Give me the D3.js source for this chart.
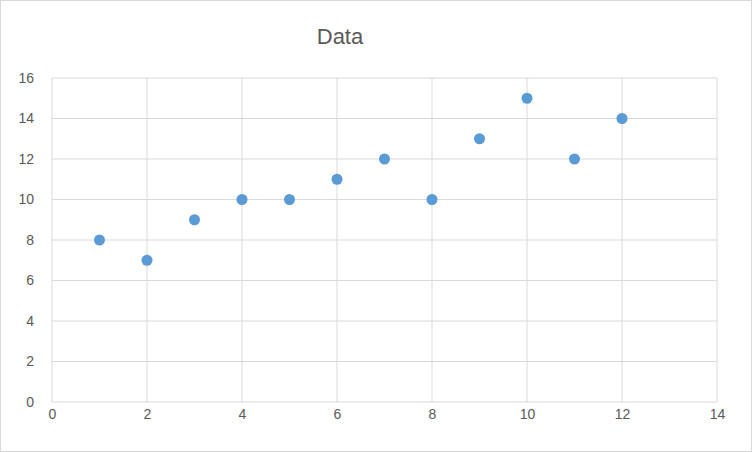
<!DOCTYPE html>
<html>
<head>
<meta charset="utf-8">
<script src="https://cdn.jsdelivr.net/npm/d3@7"></script>
<style>
  body { margin: 0; background: #fff; }
  text { font-family: "Liberation Sans", Arial, sans-serif; }
</style>
</head>
<body>
<svg id="chart" width="752" height="452"></svg>
<script>
// data
const xValues = [1, 2, 3, 4, 5, 6, 7, 8, 9, 10, 11, 12]
const yValues = [8, 7, 9, 10, 10, 11, 12, 10, 13, 15, 12, 14]
const xTicks = [0, 2, 4, 6, 8, 10, 12, 14]
const yTicks = [0, 2, 4, 6, 8, 10, 12, 14, 16]

const svg = d3.select("#chart")

// outer border
svg.append("rect")
    .attr("x", 0.5).attr("y", 0.5)
    .attr("width", 751).attr("height", 451)
    .attr("fill", "#fff").attr("stroke", "#d9d9d9")

const x = d3.scaleLinear().domain([0, 14]).range([52, 717])
const y = d3.scaleLinear().domain([0, 16]).range([402, 78])

//gridlines
svg.append("g").selectAll("line").data(xTicks).join("line")
    .attr("x1", d => x(d)).attr("x2", d => x(d))
    .attr("y1", y(0)).attr("y2", y(16))
    .attr("stroke", "#d9d9d9")
svg.append("g").selectAll("line").data(yTicks).join("line")
    .attr("x1", x(0)).attr("x2", x(14))
    .attr("y1", d => y(d)).attr("y2", d => y(d))
    .attr("stroke", "#d9d9d9")

//axes
const xAxis = svg.append("g")
    .attr("transform", `translate(0,${y(0)})`)
    .call(d3.axisBottom(x).tickValues(xTicks).tickSize(0).tickPadding(12))
const yAxis = svg.append("g")
    .attr("transform", `translate(${x(0)},0)`)
    .call(d3.axisLeft(y).tickValues(yTicks).tickSize(0).tickPadding(18))
;[xAxis, yAxis].forEach(a => {
    a.select(".domain").remove()
    a.selectAll("text").attr("fill", "#595959").attr("font-size", 14)
})
xAxis.selectAll("text").attr("dy", "0.71em").attr("transform", "translate(0,-5)")

//title
svg.append("text")
    .attr("x", 340).attr("y", 44)
    .attr("text-anchor", "middle")
    .attr("font-size", 22)
    .attr("fill", "#595959")
    .text("Data")

//points
svg.append("g").selectAll("circle").data(xValues).join("circle")
    .attr("cx", d => x(d))
    .attr("cy", (d, i) => y(yValues[i]))
    .attr("r", 5.5)
    .attr("fill", "#5b9bd5")
</script>
</body>
</html>
